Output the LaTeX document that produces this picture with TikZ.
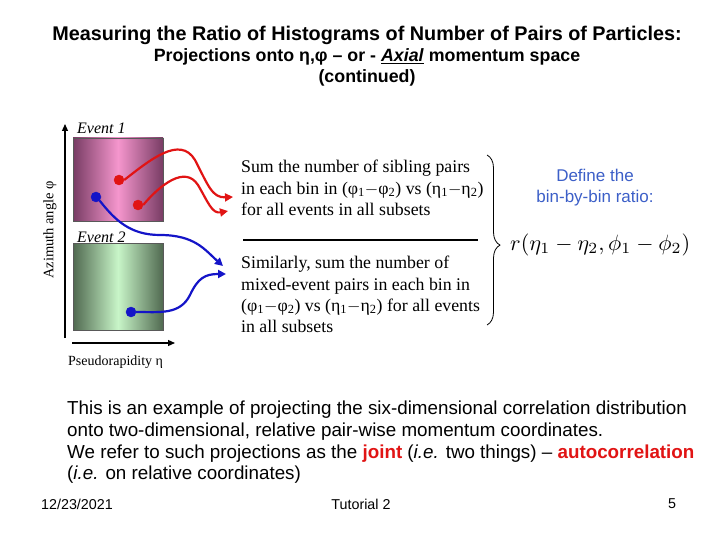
\documentclass[tikz,border=0pt]{standalone}
\usepackage{fontspec}
\setmainfont{Liberation Serif}
\setsansfont{Liberation Sans}
\usetikzlibrary{arrows.meta,decorations.pathreplacing}
\definecolor{redc}{RGB}{225,20,20}
\definecolor{bluec}{RGB}{20,20,200}
\definecolor{defblue}{RGB}{60,95,200}
\definecolor{mauve}{RGB}{120,60,100}
\definecolor{pinkc}{RGB}{245,150,205}
\definecolor{dgreen}{RGB}{80,105,80}
\definecolor{lgreen}{RGB}{200,245,200}
\newcommand{\ph}[1]{φ\textsubscript{#1}}
\newcommand{\et}[1]{η\textsubscript{#1}}
\tikzset{
  ttl/.style={font=\sffamily\bfseries\fontsize{19.8}{22}\selectfont,anchor=center},
  sub/.style={font=\sffamily\bfseries\fontsize{17.8}{20}\selectfont,anchor=center},
  body/.style={font=\fontsize{17.8}{21.3}\selectfont,anchor=north west,align=left,inner sep=0pt},
  evt/.style={font=\itshape\fontsize{16}{18}\selectfont,anchor=west,inner sep=0pt},
  dot/.style={circle,inner sep=0pt,minimum size=10pt,draw=#1,fill=#1},
  curv/.style={line width=2.2pt,draw=#1,-{Triangle[length=8pt,width=8pt]}},
  para/.style={font=\sffamily\fontsize{18.8}{21.7}\selectfont,anchor=north west,align=left,inner sep=0pt},
  foot/.style={font=\sffamily\fontsize{14.3}{16}\selectfont,anchor=center}
}
\begin{document}
\begin{tikzpicture}[x=1pt,y=-1pt]
\useasboundingbox[fill=white] (0,0) rectangle (720,540);
\node[ttl] (t1) at (367,35) {Measuring the Ratio of Histograms of Number of Pairs of Particles:};
\node[sub] (t2) at (367,57) {Projections onto η,φ -- or - \underline{\textit{Axial}} momentum space};
\node[sub] (t3) at (367,78) {(continued)};
% boxes
\shade[left color=mauve,right color=pinkc] (73,138) rectangle (118,221);
\shade[left color=pinkc,right color=mauve] (118,138) rectangle (163,221);
\shade[left color=dgreen,right color=lgreen] (73,243) rectangle (118,330);
\shade[left color=lgreen,right color=dgreen] (118,243) rectangle (163,330);
\draw[gray!70!black,line width=0.6pt] (73,138) rectangle (163,221) (73,243) rectangle (163,330);
\node[evt] (e1) at (77,128) {Event 1};
\node[evt] (e2) at (77,237) {Event 2};
% axes
\coordinate (ay0) at (65,338); \coordinate (ay1) at (65,124);
\draw[line width=1.2pt,-{Triangle[length=7pt,width=6pt]}] (ay0) -- (ay1);
\coordinate (ax0) at (72,343); \coordinate (ax1) at (175,343);
\draw[line width=1.2pt,-{Triangle[length=7pt,width=6pt]}] (ax0) -- (ax1);
\node[rotate=90,font=\fontsize{14.5}{16}\selectfont] (az) at (50,230) {Azimuth angle φ};
\node[font=\fontsize{14}{16}\selectfont,anchor=west,inner sep=0pt] (ps) at (68,362) {Pseudorapidity η};
% dots
\node[dot=redc] (r1) at (119,180) {};
\node[dot=redc] (r2) at (138,205) {};
\node[dot=bluec] (b1) at (96,197) {};
\node[dot=bluec] (b2) at (131,312) {};
\coordinate (er1) at (233,197);
\coordinate (er2) at (228,211);
\coordinate (eb1) at (223,266);
\coordinate (eb2) at (226,274);
\draw[curv=redc] (r1.east) .. controls (150,160) and (180,135) .. (195,160) .. controls (208,185) and (212,198) .. (er1);
\draw[curv=redc] (r2.east) .. controls (160,185) and (185,165) .. (198,185) .. controls (208,202) and (212,214) .. (er2);
\draw[curv=bluec] (b1.south east) .. controls (115,220) and (130,235) .. (160,235) .. controls (195,235) and (205,250) .. (eb1);
\draw[curv=bluec] (b2.east) .. controls (160,312) and (180,315) .. (190,295) .. controls (198,278) and (205,274) .. (eb2);
% text
\node[body] (s1) at (241,160) {Sum the number of sibling pairs\\in each bin in (\ph1$-$\ph2) vs (\et1$-$\et2)\\for all events in all subsets};
\draw[line width=2.5pt] (243,240) -- (478,240);
\node[body] (s2) at (241,256) {Similarly, sum the number of\\mixed-event pairs in each bin in\\(\ph1$-$\ph2) vs (\et1$-$\et2) for all events\\in all subsets};
\draw[line width=0.8pt,decorate,decoration={brace,amplitude=13pt,aspect=0.53}] (487,155) -- (487,325);
\node[font=\sffamily\fontsize{17}{21}\selectfont,text=defblue,align=center] (def) at (595,188) {Define the\\bin-by-bin ratio:};
\node[anchor=west,inner sep=0pt] (r) at (510,245) {\resizebox{180pt}{!}{$r(\eta_1-\eta_2,\phi_1-\phi_2)$}};
\node[para] (p) at (67,401) {This is an example of projecting the six-dimensional correlation distribution\\onto two-dimensional, relative pair-wise momentum coordinates.\\We refer to such projections as the \textcolor{redc}{\textbf{joint}} (\textit{i.e.} two things) -- \textcolor{redc}{\textbf{autocorrelation}}\\(\textit{i.e.} on relative coordinates)};
\node[foot] (f1) at (77,504) {12/23/2021};
\node[foot] (f2) at (361,504) {Tutorial 2};
\node[foot] (f3) at (672,504) {5};
\end{tikzpicture}
\end{document}
